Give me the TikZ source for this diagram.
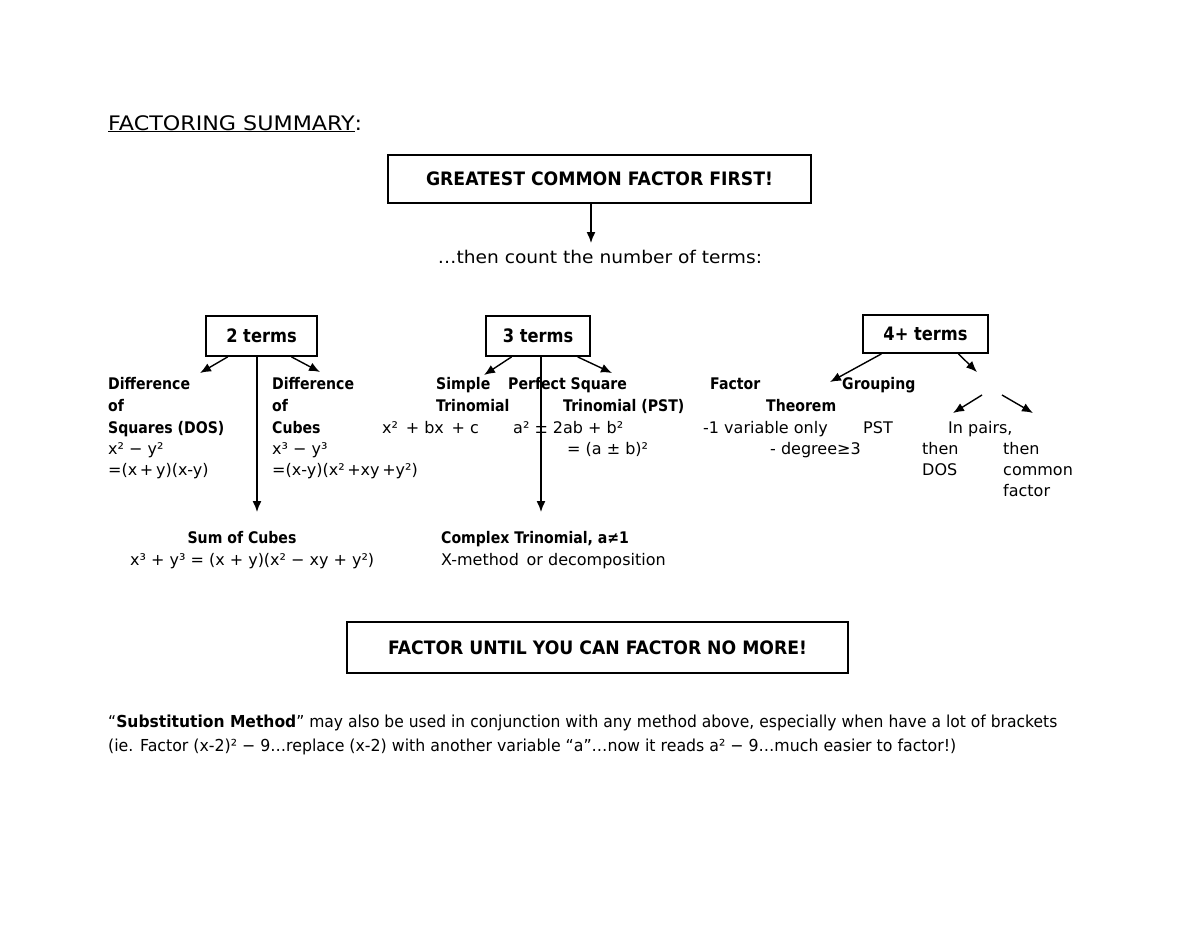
\documentclass[tikz,border=0pt]{standalone}
\usepackage{fontspec}
\usepackage{graphicx}
\setmainfont{DejaVu Sans}
\newfontfamily\cb{DejaVu Sans}[FakeStretch=0.88]
\usetikzlibrary{arrows.meta,calc}
\newcommand{\fw}[2]{\resizebox{#1pt}{\height}{#2}}
\begin{document}
\begin{tikzpicture}[x=1pt,y=-1pt,
  box/.style={draw, line width=1.8pt, inner sep=0pt, font=\fontsize{18.5}{21}\cb\bfseries},
  lbl/.style={anchor=base west, inner sep=0pt, font=\fontsize{16}{18}\cb\bfseries},
  txt/.style={anchor=base west, inner sep=0pt, font=\fontsize{16}{19}\selectfont},
  arr/.style={-{Latex[length=11pt,width=9pt]}, line width=1.4pt}]
\useasboundingbox[fill=white] (0,0) rectangle (1200,927);

% title
\node[txt, font=\fontsize{20}{24}\selectfont] (title) at (108,130) {\fw{254}{\underline{FACTORING SUMMARY}:}};

% GCF box
\node[box, minimum width=423pt, minimum height=48pt] (gcf) at (599.5,179) {\fw{347}{GREATEST COMMON FACTOR FIRST!}};
\coordinate (a1) at (591,243);
\draw[arr] (gcf.south -| a1) -- (a1);
\node[txt, anchor=base, font=\fontsize{17.5}{21}\selectfont] (count) at (600,263) {\fw{324}{…then count the number of terms:}};

% term boxes
\node[box, minimum width=111pt, minimum height=40pt] (two) at (261.5,336) {2 terms};
\node[box, minimum width=104pt, minimum height=40pt] (three) at (538,336) {3 terms};
\node[box, minimum width=125pt, minimum height=38pt] (four) at (925.5,334) {4+ terms};

% arrows from 2 terms
\coordinate (t2l) at (200,373);
\coordinate (t2r) at (320,372);
\coordinate (t2d) at (257,512);
\draw[arr] ($(two.south west)!0.2!(two.south east)$) -- (t2l);
\draw[arr] ($(two.south west)!0.766!(two.south east)$) -- (t2r);
\draw[arr] (two.south -| t2d) -- (t2d);

% arrows from 3 terms
\coordinate (t3l) at (484,375);
\coordinate (t3r) at (612,373);
\coordinate (t3d) at (541,512);
\draw[arr] ($(three.south west)!0.25!(three.south east)$) -- (t3l);
\draw[arr] ($(three.south west)!0.875!(three.south east)$) -- (t3r);
\draw[arr] (three.south -| t3d) -- (t3d);

% arrows from 4+ terms
\coordinate (t4l) at (830,382);
\coordinate (t4r) at (977,372);
\draw[arr] ($(four.south west)!0.152!(four.south east)$) -- (t4l);
\draw[arr] ($(four.south west)!0.76!(four.south east)$) -- (t4r);
\coordinate (p1) at (982,395);
\coordinate (p1e) at (953,413);
\coordinate (p2) at (1002,395);
\coordinate (p2e) at (1033,413);
\draw[arr] (p1) -- (p1e);
\draw[arr] (p2) -- (p2e);

% 2 terms texts
\node[lbl] (d1a) at (108,389) {Difference};
\node[lbl] (d1b) at (108,411) {of};
\node[lbl] (d1c) at (108,433) {Squares (DOS)};
\node[txt] (d1d) at (108,454) {x² − y²};
\node[txt] (d1e) at (108,475) {=(x\,+\,y)(x-y)};

\node[lbl] (d2a) at (272,389) {Difference};
\node[lbl] (d2b) at (272,411) {of};
\node[lbl] (d2c) at (272,433) {Cubes};
\node[txt] (d2d) at (272,454) {x³ − y³};
\node[txt] (d2e) at (272,475) {=(x-y)(x²\,+xy\,+y²)};

% 3 terms texts
\node[lbl] (s1) at (436,389) {Simple};
\node[lbl] (s2) at (436,411) {Trinomial};
\node[txt] (s3) at (382,433) {x²\, + bx\, + c};
\node[lbl] (q1) at (508,389) {Perfect Square};
\node[lbl] (q2) at (563,411) {Trinomial (PST)};
\node[txt] (q3) at (513,433) {a² ± 2ab + b²};
\node[txt] (q4) at (567,454) {= (a ± b)²};

% 4+ terms texts
\node[lbl] (f1) at (710,389) {Factor};
\node[lbl] (f2) at (766,411) {Theorem};
\node[txt] (f3) at (703,433) {-1 variable only};
\node[txt] (f4) at (770,454) {- degree≥3};
\node[lbl] (g1) at (842,389) {Grouping};
\node[txt] (g2) at (863,433) {PST};
\node[txt] (g3) at (948,433) {In pairs,};
\node[txt] (g4) at (922,454) {then};
\node[txt] (g5) at (922,475) {DOS};
\node[txt] (g6) at (1003,454) {then};
\node[txt] (g7) at (1003,475) {common};
\node[txt] (g8) at (1003,496) {factor};

% lower items
\node[lbl, anchor=base] (sc1) at (242,543) {Sum of Cubes};
\node[txt] (sc2) at (130,565) {\fw{244}{x³ + y³ = (x + y)(x² − xy + y²)}};
\node[lbl] (ct1) at (441,543) {Complex Trinomial, a≠1};
\node[txt] (ct2) at (441,565) {X-method\, or decomposition};

% final box
\node[box, minimum width=501pt, minimum height=51pt] (fin) at (597.5,647.5) {\fw{419}{FACTOR UNTIL YOU CAN FACTOR NO MORE!}};

% bottom note
\node[txt, font=\fontsize{16.5}{20}\selectfont] (n1) at (108,727) {\fw{949}{“\textbf{Substitution Method}” may also be used in conjunction with any method above, especially when have a lot of brackets}};
\node[txt, font=\fontsize{16.5}{20}\selectfont] (n2) at (108,751) {\fw{848}{(ie. Factor (x-2)² − 9…replace (x-2) with another variable “a”…now it reads a² − 9…much easier to factor!)}};
\end{tikzpicture}
\end{document}
